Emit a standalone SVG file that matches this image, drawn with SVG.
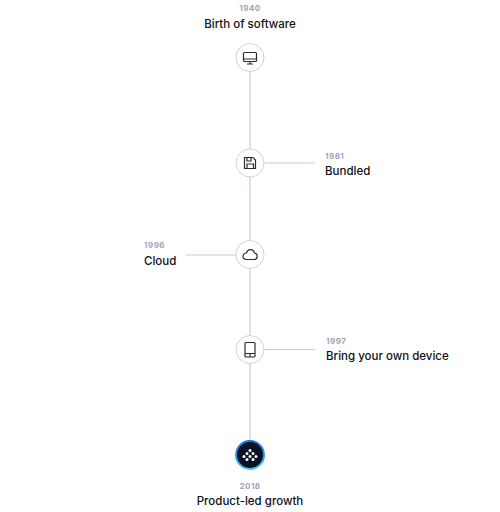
<svg xmlns="http://www.w3.org/2000/svg" width="500" height="512" viewBox="0 0 500 512">
<style>
.t{font-family:"Inter","Liberation Sans",sans-serif;font-size:11.5px;font-weight:500;fill:#0f1016}
.y{font-family:"Inter","Liberation Sans",sans-serif;font-size:8px;font-weight:700;fill:#9ea3b8;letter-spacing:.5px}
.c{fill:#fff;stroke:#cdd3e2;stroke-width:1}
.i{fill:none;stroke:#2b2d35;stroke-width:1.2}
.l{stroke:#c6cbd8;stroke-width:1.2;fill:none}
.d{fill:#fff}
</style>
<defs><linearGradient id="g" x1="0" y1="0" x2="0" y2="1"><stop offset="0" stop-color="#1f6be0"/><stop offset="1" stop-color="#3fcbf5"/></linearGradient></defs>
<g id="connectors">
<line class="l" x1="250" y1="71" x2="250" y2="441"/>
<line class="l" x1="264" y1="163" x2="315" y2="163"/>
<line class="l" x1="186" y1="255" x2="236" y2="255"/>
<line class="l" x1="264" y1="349.500" x2="315" y2="349.500"/>
</g>
<g id="node-1940">
<text class="y" x="250" y="11" text-anchor="middle">1940</text>
<text class="t" x="250" y="28" text-anchor="middle">Birth of software</text>
<circle class="c" cx="250" cy="57.500" r="14"/>
<rect class="i" x="243.500" y="52.500" width="13" height="9" rx="1"/>
<path class="i" d="M243.500 59H256.500M250 61.500V64M247 64H253"/>
</g>
<g id="node-1981">
<circle class="c" cx="250" cy="163" r="14"/>
<path class="i" d="M244.500 157.500H253L255.500 160V168.500H244.500ZM247 157.500V161H251V157.500M247 168.500V164H253.500V168.500"/>
<text class="y" x="325" y="159">1981</text>
<text class="t" x="325" y="175">Bundled</text>
</g>
<g id="node-1996">
<circle class="c" cx="250" cy="254.500" r="14"/>
<path class="i" d="M246 259.500H254C258 259.500 258.500 254 254.500 253C253.500 248.500 247.500 248.500 246.500 253C242.500 253 241.500 259.500 246 259.500Z"/>
<text class="y" x="144" y="248">1996</text>
<text class="t" x="144" y="264.500">Cloud</text>
</g>
<g id="node-1997">
<circle class="c" cx="250" cy="349.500" r="14"/>
<rect class="i" x="245" y="342.500" width="10" height="14.500" rx="1"/>
<path class="i" d="M245 353.500H255M250 353.500V357"/>
<text class="y" x="326" y="344">1997</text>
<text class="t" x="326" y="360">Bring your own device</text>
</g>
<g id="node-2018">
<circle cx="250" cy="455" r="14" fill="#0c1226" stroke="url(#g)" stroke-width="2"/>
<g class="d">
<circle cx="250" cy="450.500" r="1.500"/>
<circle cx="247" cy="453.500" r="1.500"/><circle cx="253" cy="453.500" r="1.500"/>
<circle cx="244" cy="456.500" r="1.500"/><circle cx="250" cy="456.500" r="1.500"/><circle cx="256" cy="456.500" r="1.500"/>
<circle cx="247" cy="459.500" r="1.500"/><circle cx="253" cy="459.500" r="1.500"/>
</g>
<text class="y" x="250" y="489" text-anchor="middle">2018</text>
<text class="t" x="250" y="505" text-anchor="middle">Product-led growth</text>
</g>
</svg>
